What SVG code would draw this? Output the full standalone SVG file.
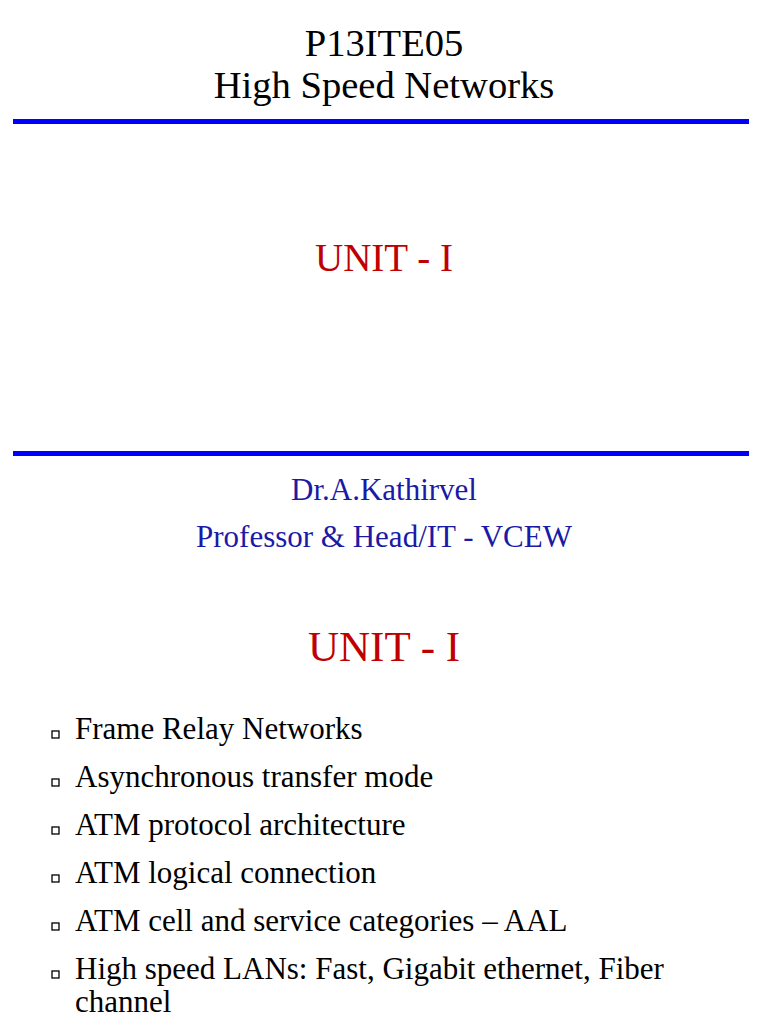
<svg xmlns="http://www.w3.org/2000/svg" width="768" height="1024" viewBox="0 0 768 1024">
<style>
text{font-family:"Liberation Serif","Times New Roman",serif}
.t{font-size:38.6px;fill:#000;text-anchor:middle}
.u{fill:#c00000;text-anchor:middle}
.a{font-size:31px;fill:#1a1aa6;text-anchor:middle}
.b{font-size:31px;fill:#000}
.sq{fill:#fff;stroke:#000;stroke-width:1.3}
</style>
<rect width="768" height="1024" fill="#fff"/>
<text class="t" x="384" y="56">P13ITE05</text>
<text class="t" x="384" y="98">High Speed Networks</text>
<rect x="13" y="119" width="736" height="5" fill="#0000ff"/>
<text class="u" x="384" y="271" font-size="39">UNIT - I</text>
<rect x="13" y="451" width="736" height="5" fill="#0000ff"/>
<text class="a" x="384" y="500">Dr.A.Kathirvel</text>
<text class="a" x="384" y="547">Professor &amp; Head/IT - VCEW</text>
<text class="u" x="384" y="661" font-size="43">UNIT - I</text>
<g>
<rect class="sq" x="52" y="731" width="7" height="7"/><text class="b" x="75" y="739">Frame Relay Networks</text>
<rect class="sq" x="52" y="779" width="7" height="7"/><text class="b" x="75" y="787">Asynchronous transfer mode</text>
<rect class="sq" x="52" y="827" width="7" height="7"/><text class="b" x="75" y="835">ATM protocol architecture</text>
<rect class="sq" x="52" y="875" width="7" height="7"/><text class="b" x="75" y="883">ATM logical connection</text>
<rect class="sq" x="52" y="923" width="7" height="7"/><text class="b" x="75" y="931">ATM cell and service categories – AAL</text>
<rect class="sq" x="52" y="971" width="7" height="7"/><text class="b" x="75" y="979">High speed LANs: Fast, Gigabit ethernet, Fiber</text>
<text class="b" x="75" y="1012">channel</text>
</g>
</svg>
